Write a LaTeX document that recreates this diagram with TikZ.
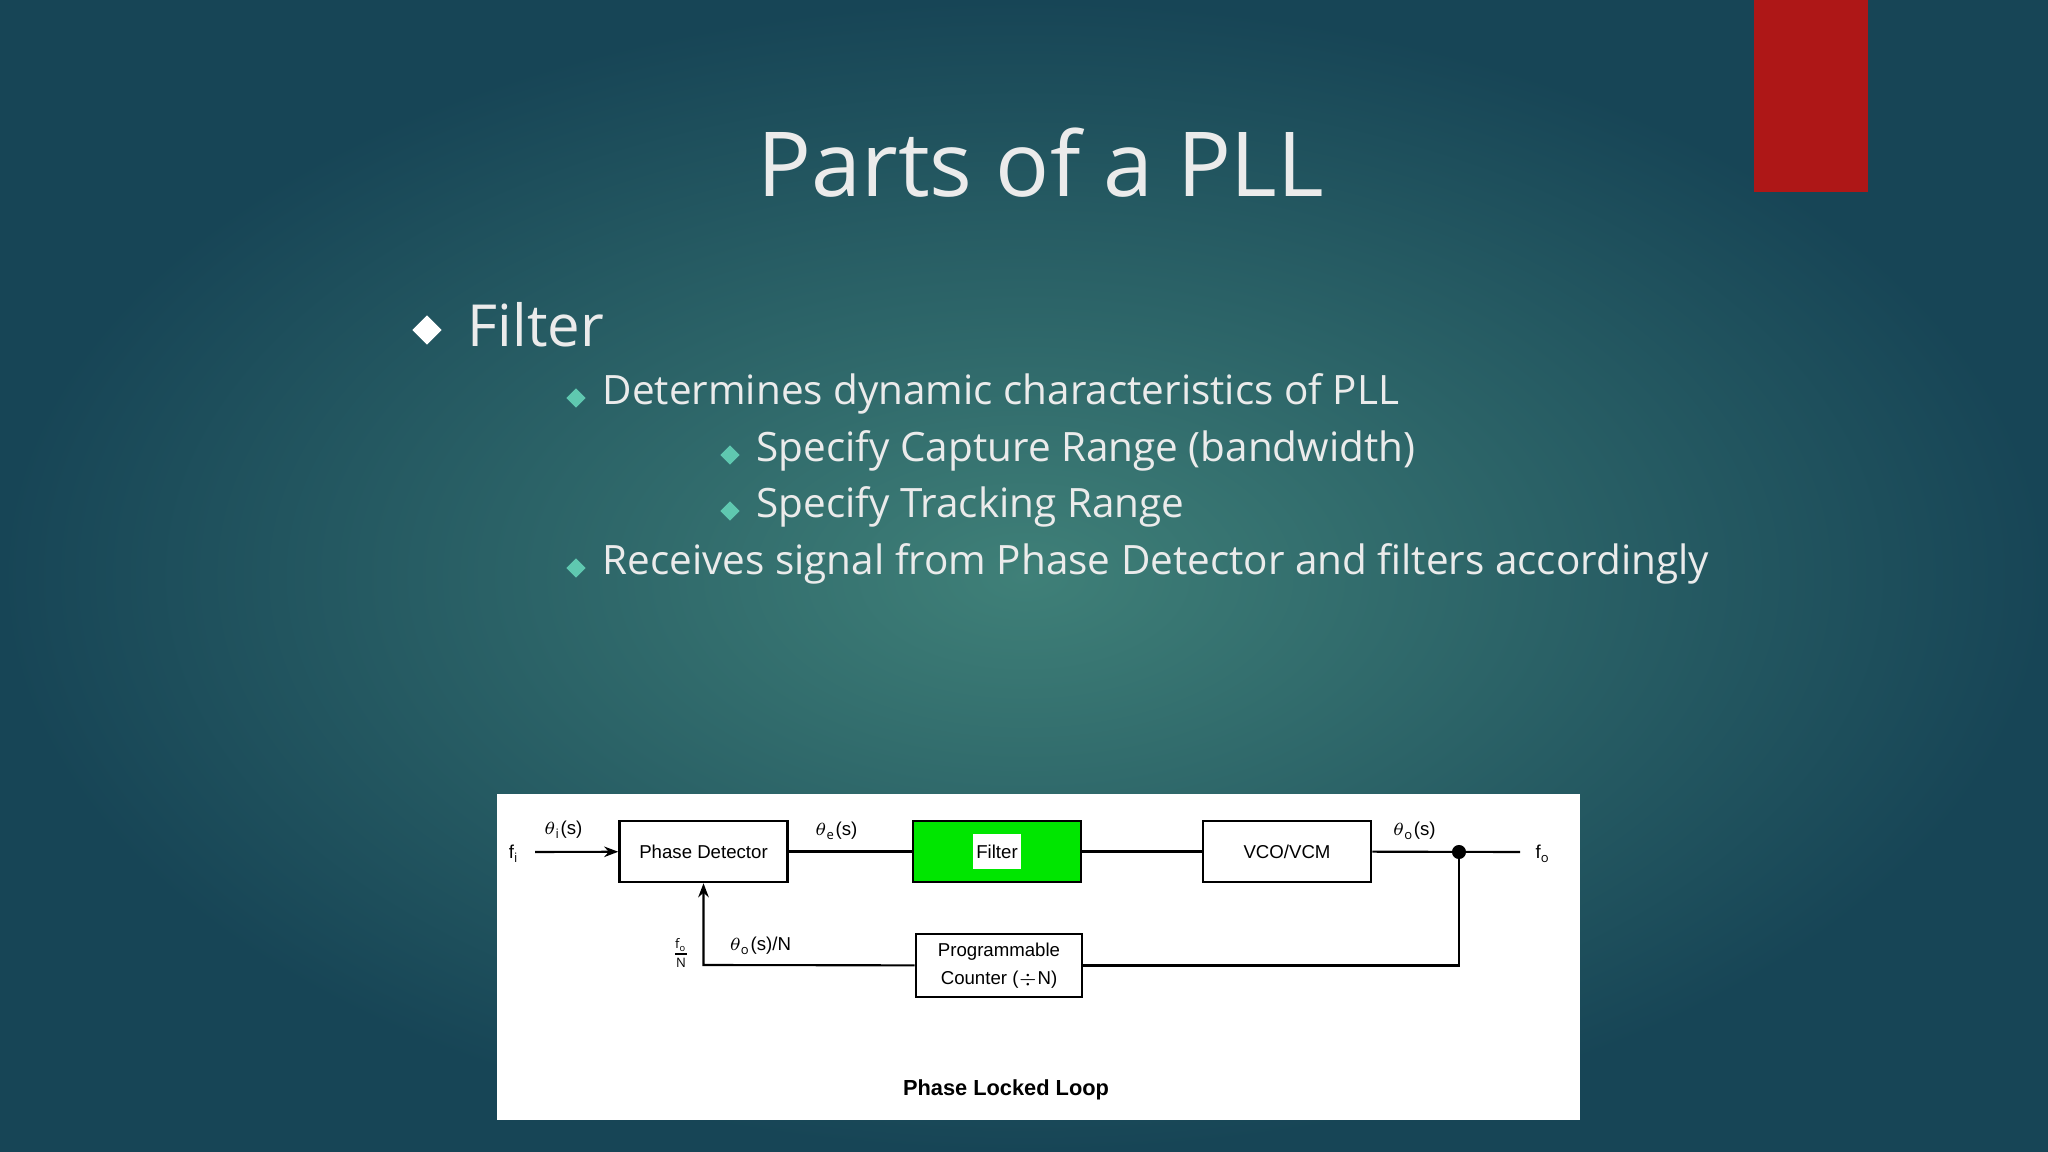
\documentclass[tikz,border=0pt]{standalone}
\usepackage{fontspec}
\setmainfont{Open Sans}
\newfontfamily\diagfont{Liberation Sans}
\usetikzlibrary{positioning, shapes.geometric, arrows.meta}
\definecolor{slideinner}{HTML}{3F8078}
\definecolor{slideouter}{HTML}{174556}
\definecolor{slidered}{HTML}{AE1717}
\definecolor{bulletteal}{HTML}{5FC8B0}
\definecolor{filtergreen}{HTML}{00E600}

\begin{document}
\begin{tikzpicture}[x=0.01cm, y=-0.01cm,
    slidetext/.style={text=white!92!black, anchor=west, inner sep=0pt},
    bullet/.style={diamond, fill=#1, inner sep=0pt, minimum size=0.2cm},
    block/.style={draw=black, line width=0.7pt, fill=white, font=\diagfont\fontsize{5.3}{6}\selectfont, align=center, minimum width=1.68cm, minimum height=0.61cm, inner sep=0pt},
    sig/.style={font=\diagfont\fontsize{5.3}{6}\selectfont, inner sep=1pt},
    wire/.style={draw=black, line width=0.6pt}]
  % background
  \useasboundingbox (0,0) rectangle (2048,1152);
  \shade[inner color=slideinner, outer color=slideouter] (0,0) rectangle (2048,1152);
  \fill[slidered] (1754,0) rectangle (1868,192);
  % title and bullets
  \node[text=white!92!black, font=\fontsize{25.5}{30}\selectfont] (title) at (1041,163) {Parts of a PLL};
  \node[bullet=white, minimum size=0.3cm] (b0) at (427,330) {};
  \node[slidetext, font=\fontsize{16.5}{20}\selectfont] (filterhead) at (467,325) {Filter};
  \node[bullet=bulletteal] (b1) at (576,398) {};
  \node[slidetext, font=\fontsize{11.5}{14}\selectfont] (dyn) at (602,394) {Determines dynamic characteristics of PLL};
  \node[bullet=bulletteal] (b2) at (730,455) {};
  \node[slidetext, font=\fontsize{11.5}{14}\selectfont] (capture) at (756,451) {Specify Capture Range (bandwidth)};
  \node[bullet=bulletteal] (b3) at (730,511) {};
  \node[slidetext, font=\fontsize{11.5}{14}\selectfont] (tracking) at (756,507) {Specify Tracking Range};
  \node[bullet=bulletteal] (b4) at (576,568) {};
  \node[slidetext, font=\fontsize{11.5}{14}\selectfont] (receives) at (602,564) {Receives signal from Phase Detector and filters accordingly};
  % diagram
  \fill[white] (497,794) rectangle (1580,1120);
  \node[block] (pd) at (703.5,851.5) {Phase Detector};
  \node[block, fill=filtergreen] (filt) at (997,851.5) {\colorbox{white}{\kern-2pt Filter\kern-2pt}};
  \node[block] (vco) at (1287,851.5) {VCO/VCM};
  \node[block, minimum width=1.66cm, minimum height=0.63cm] (cnt) at (999,965.5) {Programmable\\[2pt]Counter (\(\div\)N)};
  \node[sig] (fi) at (514,854) {f\(_{\mathrm i}\)};
  \node[sig] (fo) at (1543,854) {f\(_{\mathrm o}\)};
  \coordinate (inwire) at (535,852);
  \coordinate (split) at (1459,852);
  \coordinate (outwire) at (1520,852);
  \coordinate (corner) at (703.5,965);
  \draw[wire, -{Stealth[length=4pt]}] (inwire) -- (pd);
  \draw[wire] (pd) -- (filt);
  \draw[wire] (filt) -- (vco);
  \draw[wire] (vco) -- (outwire);
  \fill (split) circle (2pt);
  \draw[wire] (split) |- (cnt);
  \draw[wire, -{Stealth[length=4pt]}] (cnt) -- (corner) -- (pd.south);
  \node[sig] (thi) at (563,830) {\(\theta_{\mathrm i}\)(s)};
  \node[sig] (the) at (836,831) {\(\theta_{\mathrm e}\)(s)};
  \node[sig] (tho) at (1414,831) {\(\theta_{\mathrm o}\)(s)};
  \node[sig] (fon) at (681,953) {\(\frac{\mathrm f_{\mathrm o}}{\mathrm N}\)};
  \node[sig] (thon) at (760,946) {\(\theta_{\mathrm o}\)(s)/N};
  \node[sig, font=\diagfont\bfseries\fontsize{6.2}{7}\selectfont] (caption) at (1006,1090) {Phase Locked Loop};
\end{tikzpicture}
\end{document}
